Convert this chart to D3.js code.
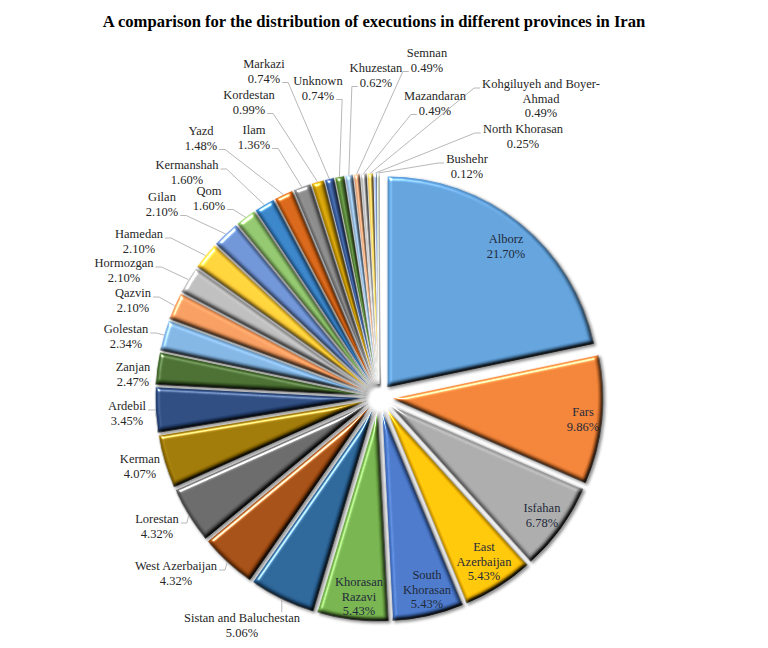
<!DOCTYPE html>
<html>
<head>
<meta charset="utf-8">
<script src="https://cdn.jsdelivr.net/npm/d3@7/dist/d3.min.js"></script>
<style>
  html, body { margin: 0; padding: 0; background: #fff; }
  svg { display: block; }
  text { font-family: "Liberation Serif", "Times New Roman", serif; }
</style>
</head>
<body>
<svg id="chart" width="768" height="648"></svg>
<script>
// ---------------- data ----------------
const categories = [
  "Alborz", "Fars", "Isfahan", "East Azerbaijan", "South Khorasan", "Khorasan Razavi",
  "Sistan and Baluchestan", "West Azerbaijan", "Lorestan", "Kerman", "Ardebil", "Zanjan",
  "Golestan", "Qazvin", "Hormozgan", "Hamedan", "Gilan", "Qom", "Kermanshah", "Yazd",
  "Ilam", "Kordestan", "Markazi", "Unknown", "Khuzestan", "Semnan", "Mazandaran",
  "Kohgiluyeh and Boyer-Ahmad", "North Khorasan", "Bushehr"
];
const shares = [
  21.70, 9.86, 6.78, 5.43, 5.43, 5.43,
  5.06, 4.32, 4.32, 4.07, 3.45, 2.47,
  2.34, 2.10, 2.10, 2.10, 2.10, 1.60, 1.60, 1.48,
  1.36, 0.99, 0.74, 0.74, 0.62, 0.49, 0.49,
  0.49, 0.25, 0.12
];
const title = "A comparison for the distribution of executions in different provinces in Iran";

// ---------------- styles / layout ----------------
const palette = [
  "#5B9BD5", "#ED7D31", "#A5A5A5", "#FFC000", "#4472C4", "#70AD47",
  "#255E91", "#9E480E", "#636363", "#997300", "#264478", "#43682B",
  "#7CAFDD", "#F1975A", "#B7B7B7", "#FFCD33", "#698ED0", "#8CC168",
  "#327DC2", "#D26012", "#848484", "#CC9A00", "#3A5FA0", "#5A8A39",
  "#9DC3E6", "#F4B183", "#C9C9C9", "#FFD966", "#8FAADC", "#A9D18E"
];

// label anchor (centre x, centre y of first line), leader type
const labelLayout = {
  "Alborz": {x: 506, y: 239, inside: true},
  "Fars": {x: 583, y: 412, inside: true},
  "Isfahan": {x: 542, y: 508, inside: true},
  "East Azerbaijan": {x: 484, y: 547, inside: true, lines: ["East", "Azerbaijan"]},
  "South Khorasan": {x: 427, y: 575, inside: true, lines: ["South", "Khorasan"]},
  "Khorasan Razavi": {x: 359, y: 582, inside: true, lines: ["Khorasan", "Razavi"]},
  "Sistan and Baluchestan": {x: 242, y: 618, lead: "t"},
  "West Azerbaijan": {x: 176, y: 566, lead: "r1"},
  "Lorestan": {x: 157, y: 519, lead: "r1"},
  "Kerman": {x: 140, y: 459, lead: "none"},
  "Ardebil": {x: 127, y: 406, lead: "r1"},
  "Zanjan": {x: 133, y: 367, lead: "none"},
  "Golestan": {x: 126, y: 329, lead: "r1"},
  "Qazvin": {x: 133, y: 293, lead: "r1"},
  "Hormozgan": {x: 124, y: 263, lead: "r1"},
  "Hamedan": {x: 139, y: 234, lead: "r1"},
  "Gilan": {x: 162, y: 197, lead: "r2"},
  "Qom": {x: 209, y: 191, lead: "r2"},
  "Kermanshah": {x: 187, y: 165, lead: "r1"},
  "Yazd": {x: 201, y: 131, lead: "r2"},
  "Ilam": {x: 254, y: 130, lead: "r2"},
  "Kordestan": {x: 249, y: 95, lead: "r2"},
  "Markazi": {x: 264, y: 64, lead: "r2"},
  "Unknown": {x: 318, y: 81, lead: "r2"},
  "Khuzestan": {x: 376, y: 68, lead: "l2"},
  "Semnan": {x: 427, y: 53, lead: "l2"},
  "Mazandaran": {x: 435, y: 96, lead: "l2"},
  "Kohgiluyeh and Boyer-Ahmad": {x: 541, y: 84, lead: "l1", lines: ["Kohgiluyeh and Boyer-", "Ahmad"]},
  "North Khorasan": {x: 523, y: 129, lead: "l1"},
  "Bushehr": {x: 467, y: 159, lead: "l1"}
};

// ---------------- drawing ----------------
const W = 768, H = 648;
const cx = 379, cy = 397, R = 211, EXPLODE = 13, LH = 14.5;
const svg = d3.select("#chart");

const defs = svg.append("defs");
const f = defs.append("filter").attr("id", "bevel")
  .attr("x", "-15%").attr("y", "-15%").attr("width", "130%").attr("height", "130%")
  .attr("color-interpolation-filters", "sRGB");
f.append("feGaussianBlur").attr("in", "SourceAlpha").attr("stdDeviation", 2).attr("result", "blur");
const dl = f.append("feDiffuseLighting").attr("in", "blur").attr("surfaceScale", 4)
  .attr("diffuseConstant", 1.2).attr("lighting-color", "#fff").attr("result", "diff");
dl.append("feDistantLight").attr("azimuth", 235).attr("elevation", 55);
f.append("feComposite").attr("in", "SourceGraphic").attr("in2", "diff")
  .attr("operator", "arithmetic").attr("k1", 1).attr("k2", 0).attr("k3", 0).attr("k4", 0).attr("result", "lit");
const sl = f.append("feSpecularLighting").attr("in", "blur").attr("surfaceScale", 4)
  .attr("specularConstant", 1.1).attr("specularExponent", 25).attr("lighting-color", "#fff").attr("result", "spec");
sl.append("feDistantLight").attr("azimuth", 235).attr("elevation", 35);
f.append("feComposite").attr("in", "spec").attr("in2", "SourceAlpha").attr("operator", "in").attr("result", "specIn");
f.append("feComposite").attr("in", "lit").attr("in2", "specIn")
  .attr("operator", "arithmetic").attr("k1", 0).attr("k2", 1).attr("k3", 0.85).attr("k4", 0).attr("result", "shape");
f.append("feGaussianBlur").attr("in", "SourceAlpha").attr("stdDeviation", 1.5).attr("result", "sb");
f.append("feOffset").attr("in", "sb").attr("dx", 1.5).attr("dy", 2).attr("result", "so");
f.append("feFlood").attr("flood-color", "#000").attr("flood-opacity", 0.45).attr("result", "fl");
f.append("feComposite").attr("in", "fl").attr("in2", "so").attr("operator", "in").attr("result", "shadow");
const mg = f.append("feMerge");
mg.append("feMergeNode").attr("in", "shadow");
mg.append("feMergeNode").attr("in", "shape");

// title
svg.append("text")
  .attr("x", 374).attr("y", 27)
  .attr("text-anchor", "middle")
  .attr("font-size", 16.6).attr("font-weight", "bold").attr("fill", "#000")
  .text(title);

const data = categories.map((c, i) => ({name: c, value: shares[i], color: palette[i]}));
const pie = d3.pie().sort(null).value(d => d.value);
const arcs = pie(data);
const arcGen = d3.arc().innerRadius(0).outerRadius(R);
const mid = d => (d.startAngle + d.endAngle) / 2;

const sliceG = svg.append("g");
sliceG.selectAll("path").data(arcs).join("path")
  .attr("transform", d => `translate(${cx + EXPLODE * Math.sin(mid(d))},${cy - EXPLODE * Math.cos(mid(d))})`)
  .attr("d", arcGen)
  .attr("fill", d => d.data.color)
  .attr("stroke", "#fff").attr("stroke-width", 0.8)
  .attr("filter", "url(#bevel)");

// labels
const leadG = svg.append("g");
const labG = svg.append("g");
arcs.forEach(d => {
  const L = labelLayout[d.data.name];
  const lines = (L.lines ? L.lines.slice() : [d.data.name]);
  lines.push(d.data.value.toFixed(2) + "%");
  const t = labG.append("text")
    .attr("text-anchor", "middle")
    .attr("font-size", 12.5)
    .attr("fill", L.inside ? "#1f2a3a" : "#262626");
  const tspans = lines.map((ln, k) => t.append("tspan")
    .attr("x", L.x).attr("y", L.y + k * LH + 4.3).text(ln));
  if (L.inside || L.lead === "none") return;
  const a = mid(d);
  const P = [cx + (R + EXPLODE) * Math.sin(a), cy - (R + EXPLODE) * Math.cos(a)];
  let pts;
  const lineIdx = L.lead.endsWith("2") ? lines.length - 1 : 0;
  const w = tspans[lineIdx].node().getComputedTextLength();
  const ly = L.y + lineIdx * LH + 4;
  if (L.lead[0] === "r") {
    const sx = L.x + w / 2 + 2;
    pts = [[sx, ly], [sx + 6, ly], P];
  } else if (L.lead[0] === "l") {
    const sx = L.x - w / 2 - 2;
    pts = [[sx, ly], [sx - 6, ly], P];
  } else {
    pts = [[P[0], L.y - 6], P];
  }
  leadG.append("path")
    .attr("d", d3.line()(pts))
    .attr("fill", "none").attr("stroke", "#a6a6a6").attr("stroke-width", 0.8);
});
</script>
</body>
</html>
